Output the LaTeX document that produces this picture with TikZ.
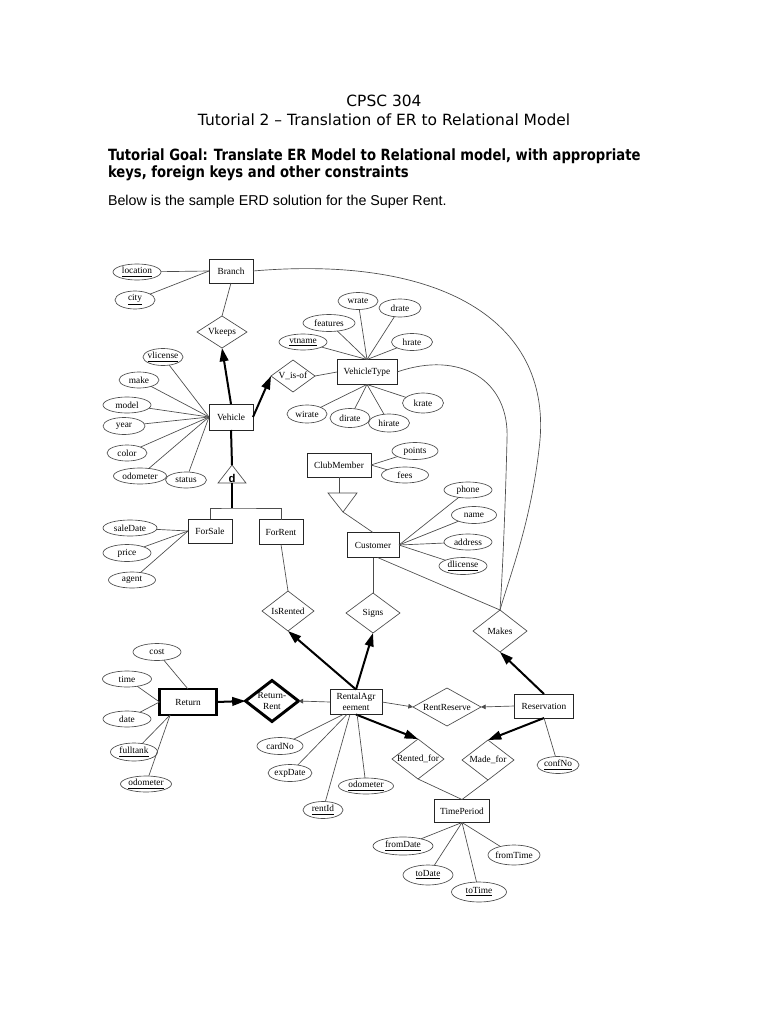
\documentclass[tikz,border=0pt]{standalone}
\usepackage{fontspec}
\usepackage{graphicx}
\setmainfont{Liberation Serif}
\newfontfamily\djv{DejaVu Sans}
\newfontfamily\arialf{Liberation Sans}
\usetikzlibrary{shapes.geometric,arrows.meta}
\newdimen\pxu \pxu=0.75pt
\begin{document}
\begin{tikzpicture}[x=0.75pt,y=-0.75pt,
  every node/.style={inner sep=0pt,outer sep=0pt},
  lbl/.style={font=\fontsize{7}{8.4}\selectfont,align=center,inner sep=0pt},
  sz/.style 2 args={minimum width=#1\pxu,minimum height=#2\pxu},
  ent/.style={draw=black!85,line width=0.6pt,rectangle,font=\fontsize{7}{8.4}\selectfont,align=center},
  att/.style={draw=black!70,line width=0.5pt,ellipse,label={[lbl]center:{#1}}},
  rel/.style={draw=black!70,line width=0.5pt,diamond,label={[lbl]center:{#1}}},
  ln/.style={draw=black!70,line width=0.5pt},
  thk/.style={draw=black,line width=1.5pt,-{Triangle[length=10pt,width=6.5pt]}},
  sml/.style={ln,-{Triangle[length=3.5pt,width=3.5pt]}},
  goal/.style={font=\djv\bfseries\fontsize{11.6}{14}\selectfont,anchor=base west},
]
\useasboundingbox[fill=white] (0,0) rectangle (768,1024);

% headings
\node[font=\djv\fontsize{11.6}{14}\selectfont,anchor=base] (h1) at (384,107) {CPSC 304};
\node[font=\djv\fontsize{11.6}{14}\selectfont,anchor=base] (h2) at (384,125) {Tutorial 2 – Translation of ER to Relational Model};
\node[goal] (g1) at (108,160) {\scalebox{0.852}[1]{Tutorial Goal: Translate ER Model to Relational model, with appropriate}};
\node[goal] (g2) at (108,177) {\scalebox{0.852}[1]{keys, foreign keys and other constraints}};
\node[font=\arialf\fontsize{10.7}{13}\selectfont,anchor=base west] (b1) at (108,205) {Below is the sample ERD solution for the Super Rent.};

% entities
\node[ent,sz={44}{24}] (br) at (231,271) {Branch};
\node[ent,sz={44}{26}] (veh) at (231,417) {Vehicle};
\node[ent,sz={60}{25}] (vt) at (367,372) {VehicleType};
\node[ent,sz={64}{24}] (cm) at (339,465) {ClubMember};
\node[ent,sz={52}{25}] (cust) at (373,545) {Customer};
\node[ent,sz={44}{24}] (fs) at (210,531) {ForSale};
\node[ent,sz={44}{25}] (fr) at (281,532) {ForRent};
\node[ent,sz={57}{26},draw=black,line width=2.2pt] (ret) at (188,702) {Return};
\node[ent,sz={52}{25}] (ra) at (356,702) {RentalAgr\\eement};
\node[ent,sz={59}{24}] (res) at (544,706) {Reservation};
\node[ent,sz={55}{23}] (tp) at (462,811) {TimePeriod};

% relationships
\node[rel=Vkeeps,sz={50}{32}] (vk) at (222,332) {};
\node[rel=V\_is-of,sz={44}{32}] (vio) at (293,376) {};
\node[rel=IsRented,sz={52}{40}] (isr) at (288,611) {};
\node[rel=Signs,sz={54}{40}] (sg) at (373,613) {};
\node[rel=Makes,sz={54}{42}] (mk) at (500,631) {};
\node[rel={Return-\\Rent},sz={53}{41},draw=black,line width=2.2pt] (rrent) at (272,701) {};
\node[rel=RentReserve,sz={68}{38}] (rres) at (447,707) {};
\node[rel=Rented\_for,sz={52}{40}] (rf) at (418,759) {};
\node[rel=Made\_for,sz={52}{40}] (mf) at (488,760) {};

% attributes
\node[att={\underline{location}},sz={48}{16}] (loc) at (137,272) {};
\node[att={\underline{city}},sz={40}{18}] (city) at (135,300) {};
\node[att={\underline{vlicense}},sz={40}{17}] (vlic) at (163,357) {};
\node[att=make,sz={40}{16}] (make) at (139,380) {};
\node[att=model,sz={48}{16}] (model) at (127,405) {};
\node[att=year,sz={42}{17}] (year) at (124,426) {};
\node[att=color,sz={40}{16}] (color) at (127,453) {};
\node[att=odometer,sz={53}{16}] (odo1) at (140,476) {};
\node[att=status,sz={41}{16}] (status) at (186,480) {};
\node[att=wrate,sz={40}{17}] (wrate) at (358,301) {};
\node[att=drate,sz={42}{18}] (drate) at (400,308) {};
\node[att=features,sz={52}{17}] (feat) at (329,323) {};
\node[att={\underline{vtname}},sz={48}{16}] (vtname) at (303,342) {};
\node[att=hrate,sz={41}{17}] (hrate) at (412,342) {};
\node[att=wirate,sz={40}{18}] (wirate) at (307,414) {};
\node[att=dirate,sz={40}{19}] (dirate) at (350,418) {};
\node[att=hirate,sz={41}{18}] (hirate) at (389,423) {};
\node[att=krate,sz={41}{20}] (krate) at (423,403) {};
\node[att=points,sz={46}{17}] (pts) at (415,451) {};
\node[att=fees,sz={47}{16}] (fees) at (405,475) {};
\node[att=phone,sz={48}{16}] (phone) at (468,490) {};
\node[att=name,sz={45}{17}] (name) at (474,515) {};
\node[att=address,sz={48}{16}] (addr) at (468,542) {};
\node[att={\underline{dlicense}},sz={48}{17}] (dlic) at (463,566) {};
\node[att=saleDate,sz={54}{16}] (sdate) at (130,528) {};
\node[att=price,sz={48}{17}] (price) at (127,553) {};
\node[att=agent,sz={47}{16}] (agent) at (132,580) {};
\node[att=cost,sz={48}{17}] (cost) at (157,652) {};
\node[att=time,sz={49}{16}] (time) at (127,679) {};
\node[att=date,sz={48}{16}] (date) at (127,719) {};
\node[att={\underline{fulltank}},sz={47}{18}] (full) at (134,752) {};
\node[att={\underline{odometer}},sz={51}{16}] (odo2) at (146,784) {};
\node[att=cardNo,sz={46}{17}] (card) at (280,746) {};
\node[att=expDate,sz={44}{17}] (exp) at (290,773) {};
\node[att={\underline{rentId}},sz={40}{17}] (rentid) at (323,810) {};
\node[att={\underline{odometer}},sz={55}{16}] (odo3) at (366,786) {};
\node[att={\underline{confNo}},sz={42}{17}] (conf) at (558,765) {};
\node[att={\underline{fromDate}},sz={60}{18}] (fdate) at (403,846) {};
\node[att={\underline{toDate}},sz={50}{20}] (tdate) at (428,875) {};
\node[att={\underline{toTime}},sz={55}{20}] (ttime) at (479,892) {};
\node[att=fromTime,sz={52}{20}] (ftime) at (514,855) {};

% Branch
\draw[ln] (loc) -- (br.west);
\draw[ln] (city) -- (br.west);
\draw[ln] (br.south) -- (vk.north);
\draw[ln] (br.east) .. controls (440,255) and (550,320) .. (540,440) .. controls (532,520) and (510,575) .. (mk.north);
% Vehicle
\draw[thk] (veh.north) -- (vk.south);
\draw[thk] (veh.east) -- (vio.west);
\draw[ln] (vio.east) -- (vt.west);
\foreach \a in {vlic,make,model,year,color,odo1,status} \draw[ln] (\a) -- (veh.west);
% VehicleType
\foreach \a in {wrate,drate,feat,vtname,hrate} \draw[ln] (\a) -- (vt.north);
\foreach \a in {wirate,dirate,hirate,krate} \draw[ln] (\a) -- (vt.south);
\draw[ln] (vt.east) .. controls (460,350) and (510,380) .. (507,440) .. controls (505,520) and (502,580) .. (mk.north);
% disjoint specialisation
\coordinate (dtop) at (232,465);
\coordinate (dbl) at (218,483);
\coordinate (dbr) at (246,483);
\coordinate (dbase) at (232,483);
\coordinate (dj) at (232,508);
\draw[ln] (dtop) -- (dbl) -- (dbr) -- cycle;
\node[font=\arialf\bfseries\fontsize{8.5}{9}\selectfont] (dlab) at (232,478) {d};
\draw[line width=1.5pt] (veh.south) -- (dtop);
\draw[line width=1.5pt] (dbase) -- (dj);
\draw[ln] (fs.north) |- (dj) -| (fr.north);
\foreach \a in {sdate,price,agent} \draw[ln] (\a) -- (fs.west);
\draw[ln] (fr.south) -- (isr.north);
% ClubMember / Customer
\draw[ln] (pts) -- (cm.east);
\draw[ln] (fees) -- (cm.east);
\coordinate (t2l) at (328,493);
\coordinate (t2r) at (357,493);
\coordinate (t2a) at (343,512);
\draw[ln] (t2l) -- (t2r) -- (t2a) -- cycle;
\draw[ln] (cm.south) -- (cm.south |- t2l);
\draw[ln] (t2a) -- (cust.north);
\foreach \a in {phone,name,addr,dlic} \draw[ln] (\a) -- (cust.east);
\draw[ln] (cust.south) -- (sg.north);
\draw[ln] (cust.-70) -- (mk.north);
% RentalAgreement
\draw[thk] (ra.north) -- (isr.south);
\draw[thk] (ra.north) -- (sg.south);
\draw[thk] (ret.east) -- (rrent.west);
\draw[sml] (ra.west) -- (rrent.east);
\draw[sml] (ra.east) -- (rres.west);
\draw[sml] (res.west) -- (rres.east);
\draw[thk] (res.north) -- (mk.south);
\draw[thk] (res.south) -- (mf.north);
\draw[thk] (ra.south) -- (rf.north);
\draw[ln] (rf.south) -- (tp.north);
\draw[ln] (mf.south) -- (tp.north);
\draw[ln] (conf) -- (res.south);
% Return attributes
\draw[ln] (cost) -- (ret.north);
\draw[ln] (time) -- (ret.west);
\draw[ln] (date) -- (ret.west);
\draw[ln] (full) -- (ret.216);
\draw[ln] (odo2) -- (ret.216);
% RentalAgreement attributes
\draw[ln] (card) -- (ra.224);
\draw[ln] (exp) -- (ra.234);
\draw[ln] (rentid) -- (ra.244);
\draw[ln] (odo3) -- (ra.-85);
% TimePeriod attributes
\foreach \a in {fdate,tdate,ttime,ftime} \draw[ln] (\a) -- (tp.south);
\end{tikzpicture}
\end{document}
